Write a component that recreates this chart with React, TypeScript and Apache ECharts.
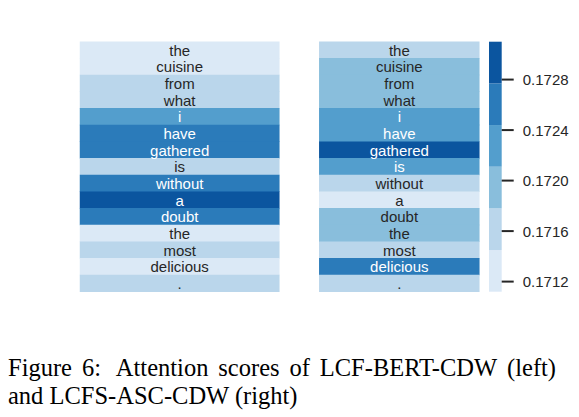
import { useRef, useEffect } from "react";
import * as echarts from "echarts";

// tokens of the sentence, top to bottom
const tokens = [
  "the", "cuisine", "from", "what", "i", "have", "gathered", "is",
  "without", "a", "doubt", "the", "most", "delicious", ".",
];

// attention scores, LCF-BERT-CDW (left)
const leftScores = [
  0.17128, 0.17131, 0.17158, 0.17162, 0.17231, 0.17264, 0.17259, 0.17167,
  0.17255, 0.1731, 0.17268, 0.17136, 0.17154, 0.17125, 0.17171,
];

// attention scores, LCFS-ASC-CDW (right)
const rightScores = [
  0.1716, 0.17192, 0.17189, 0.17196, 0.17226, 0.17232, 0.17296, 0.17221,
  0.17163, 0.17112, 0.17185, 0.17197, 0.17157, 0.17261, 0.1715,
];

// colour bar tick labels
const barTicks = [0.1712, 0.1716, 0.172, 0.1724, 0.1728];

// seaborn "Blues" with 6 levels
const palette = ["#dbe9f6", "#bad6eb", "#89bedc", "#539ecd", "#2b7bba", "#0b559f"];

const captionLine1 = ["Figure", "6:", "Attention", "scores", "of", "LCF-BERT-CDW", "(left)"];
const captionLine2 = "and LCFS-ASC-CDW (right)";

const all = [...leftScores, ...rightScores];
const vMin = Math.min(...all);
const vMax = Math.max(...all);
const step = (vMax - vMin) / palette.length;

const level = (v: number) =>
  Math.min(palette.length - 1, Math.floor((v - vMin) / step));

const cells = (scores: number[]) =>
  scores.map((v, i) => ({
    value: [0, i, v],
    label: { color: level(v) >= 3 ? "#ffffff" : "#262626" },
  }));

const bands = palette.map((_, k) => [vMin + k * step, vMin + (k + 1) * step, k]);

const TOP = 41.7;
const H = 250;
const SANS = "Liberation Sans, Arial, sans-serif";
const SERIF_FONT = "24.5px 'Liberation Serif', 'Times New Roman', serif";

// spread the words of the first caption line over the full text width (justified)
const justify = (words: string[], x0: number, x1: number) => {
  const ctx = document.createElement("canvas").getContext("2d")!;
  ctx.font = SERIF_FONT;
  const widths = words.map((w) => ctx.measureText(w).width);
  const space = ctx.measureText(" ").width;
  // a slightly wider gap after the colon, as LaTeX puts it
  const gapWeights = words.slice(0, -1).map((w) => (w.endsWith(":") ? 1.5 : 1));
  const totalWeight = gapWeights.reduce((a, b) => a + b, 0);
  const free = x1 - x0 - widths.reduce((a, b) => a + b, 0);
  const unit = Math.max(space, free / totalWeight);
  const xs: number[] = [];
  let x = x0;
  words.forEach((_, i) => {
    xs.push(x);
    x += widths[i] + (gapWeights[i] ?? 0) * unit;
  });
  return xs;
};

const App = () => {
  const ref = useRef<HTMLDivElement>(null);

  useEffect(() => {
    const chart = echarts.init(ref.current, null, { renderer: "svg" });

    const catX = (gi: number) => ({
      type: "category",
      gridIndex: gi,
      data: ["x"],
      show: false,
    });
    const catY = (gi: number) => ({
      type: "category",
      gridIndex: gi,
      data: tokens.map((_, i) => String(i)),
      inverse: true,
      show: false,
    });

    const heat = (gi: number, scores: number[]) => ({
      type: "heatmap",
      xAxisIndex: gi,
      yAxisIndex: gi,
      data: cells(scores),
      label: {
        show: true,
        formatter: (p: any) => tokens[p.dataIndex],
        fontFamily: SANS,
        fontSize: 15,
      },
      emphasis: { disabled: true },
      silent: true,
    });

    const xs = justify(captionLine1, 8, 556);

    chart.setOption({
      animation: false,
      grid: [
        { left: 80, top: TOP, width: 199.3, height: H },
        { left: 319.3, top: TOP, width: 160, height: H },
        { left: 489, top: TOP, width: 12.7, height: H },
      ],
      xAxis: [
        catX(0),
        catX(1),
        { type: "value", gridIndex: 2, min: 0, max: 1, show: false },
      ],
      yAxis: [
        catY(0),
        catY(1),
        {
          type: "value",
          gridIndex: 2,
          min: vMin,
          max: vMax,
          position: "right",
          splitLine: { show: false },
          axisLine: { show: false },
          axisTick: { show: false },
          axisLabel: {
            customValues: barTicks,
            margin: 21,
            formatter: (v: number) => v.toFixed(4),
            color: "#262626",
            fontFamily: SANS,
            fontSize: 15,
          },
        },
      ],
      visualMap: {
        type: "piecewise",
        show: false,
        min: vMin,
        max: vMax,
        splitNumber: palette.length,
        seriesIndex: [0, 1],
        dimension: 2,
        inRange: { color: palette },
      },
      series: [
        heat(0, leftScores),
        heat(1, rightScores),
        {
          type: "custom",
          xAxisIndex: 2,
          yAxisIndex: 2,
          data: bands,
          silent: true,
          renderItem: (params: any, api: any) => {
            const yTop = api.coord([0, api.value(1)])[1];
            const yBot = api.coord([0, api.value(0)])[1];
            return {
              type: "rect",
              shape: {
                x: params.coordSys.x,
                y: yTop,
                width: params.coordSys.width,
                height: yBot - yTop,
              },
              style: { fill: palette[api.value(2)] },
            };
          },
        },
        {
          // colour bar tick marks
          type: "custom",
          xAxisIndex: 2,
          yAxisIndex: 2,
          data: barTicks.map((t) => [0, t]),
          silent: true,
          renderItem: (params: any, api: any) => {
            const y = api.coord([0, api.value(1)])[1];
            const x = params.coordSys.x + params.coordSys.width;
            return {
              type: "line",
              shape: { x1: x, y1: y, x2: x + 12, y2: y },
              style: { stroke: "#262626", lineWidth: 2 },
            };
          },
        },
      ],
      graphic: [
        ...captionLine1.map((w, i) => ({
          type: "text",
          x: xs[i],
          y: 355,
          style: { text: w, font: SERIF_FONT, fill: "#000" },
        })),
        {
          type: "text",
          x: 8,
          y: 383,
          style: { text: captionLine2, font: SERIF_FONT, fill: "#000" },
        },
      ],
    });

    return () => {
      chart.dispose();
    };
  }, []);

  return (
    <div
      ref={ref}
      style={{ position: "fixed", left: 0, top: 0, width: "579px", height: "417px", background: "#fff" }}
    ></div>
  );
};

export default App;
